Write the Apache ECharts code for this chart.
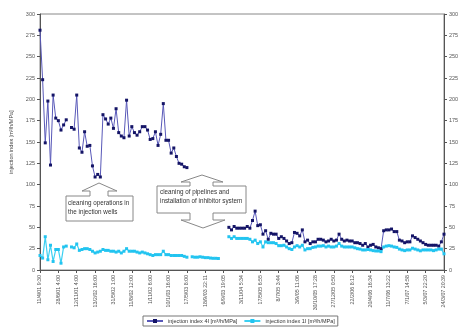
<!DOCTYPE html>
<html><head><meta charset="utf-8">
<script src="https://cdn.jsdelivr.net/npm/echarts@6/dist/echarts.min.js"></script>
<style>html,body{margin:0;padding:0;background:#fff}#c{width:474px;height:333px}</style>
</head><body><div id="c"></div>
<script>
var tickLabels = ["11/4/01 9:30","28/6/01 4:00","12/11/01 4:00","13/2/02 16:00","31/5/02 1:00","11/8/02 12:00","1/11/02 6:00","10/1/03 16:00","17/5/03 8:00","18/9/03 22:11","6/9/03 19:05","3/11/04 5:34","17/5/05 6:55","8/7/05 3:44","3/9/05 11:06","30/10/05 17:28","27/12/05 0:50","22/2/06 8:12","20/4/06 16:34","11/7/06 13:22","7/1/07 14:58","5/3/07 22:20","24/3/07 20:39"];
var pointsPerTick = 7;
var seriesNames = ["injection index 4I [m³/h/MPa]","injection index 1I [m³/h/MPa]"];
var index4I = [281,223,149,198,123,205,178,175,164,170,176,null,167,165,205,143,138,162,145,146,122,109,112,109,182,177,171,178,166,189,161,157,155,199,157,168,161,158,162,168,168,164,153,154,162,146,159,195,152,152,137,143,133,125,124,121,120,
null,null,null,null,null,null,null,null,null,null,null,null,null,null,null,
50,47,51,49,49,49,49,51,49,58,69,52,53,42,46,36,43,42,42,37,39,37,34,31,32,44,43,40,47,33,35,31,33,33,36,36,35,33,34,36,34,35,42,36,34,35,34,34,32,32,31,29,31,27,29,30,27,26,25,46,47,47,48,45,45,35,34,32,33,33,40,38,36,34,32,30,29,29,29,29,28,33,42];
var index1I = [17,14,39,12,29,10,24,24,8,27,28,null,27,26,30.5,23,24,25,25,24,22,20,21,22,24,23,23,22,22,21,22,20,22,25,22,22,22,21,20,21,20,19,18,17,18,18,18,22,18,18,17,17,17,17,17,16,15,
null,15.5,15,15,15.5,15,14.5,14.5,14,13.7,13.7,13.5,null,null,null,
39,37,39,37,37,37,37,37,36,33,35,31,33,27,33,32,32,32,31,28.5,28.5,29,27,25,24,27,28.5,27,29,23.5,25,25,26.5,27,28,28,28.5,27,28,27,27,28,31,28,27,27,27,27,26,25,24.5,23.5,23.5,24,23.5,22.7,22.3,22.3,21.5,27,28,28.5,28,27,26.5,24.5,23.5,22.7,23.5,23.5,25.5,24.5,23.5,22.5,23.5,23.5,23.5,23.5,22.7,23.5,24.5,24.5,19];
var annotationTexts = ["cleaning operations in\nthe injection wells","cleaning of pipelines and\ninstallation of inhibitor system"];

function pairs(arr){ return arr.map(function(v,i){ return [i, v]; }); }
var maxX = (tickLabels.length-1)*pointsPerTick;
var FONT = "Liberation Sans";
var chart = echarts.init(document.getElementById('c'));
var yCommon = {
  type:'value', min:0, max:300, interval:25,
  axisLine:{show:true,lineStyle:{color:'#555',width:1}},
  axisTick:{show:true,length:3,lineStyle:{color:'#555'}},
  axisLabel:{fontSize:5.5,color:'#555',fontFamily:FONT,margin:5},
  splitLine:{show:false}
};
chart.setOption({
  animation:false,
  grid:{left:38,right:30,top:14,bottom:63,show:true,borderColor:'#888',borderWidth:1,backgroundColor:'transparent'},
  legend:{
    left:143, top:316, itemWidth:16, itemHeight:5, itemGap:6,
    padding:[2,3,2,3], borderColor:'#777', borderWidth:1, borderRadius:0,
    textStyle:{fontSize:5.5,color:'#333',fontFamily:FONT},
    data:seriesNames
  },
  xAxis:{
    type:'value', min:0, max:maxX, interval:pointsPerTick,
    axisLine:{show:true,onZero:false,lineStyle:{color:'#555'}},
    axisTick:{show:true,length:3,lineStyle:{color:'#555'}},
    splitLine:{show:false},
    axisLabel:{rotate:90,fontSize:5.3,color:'#555',fontFamily:FONT,margin:5,showMinLabel:true,showMaxLabel:true,
      formatter:function(v){ return tickLabels[Math.round(v/pointsPerTick)] || ''; }}
  },
  yAxis:[
    Object.assign({}, yCommon, {position:'left', name:'injection index [m³/h/MPa]', nameLocation:'middle', nameGap:26, nameTextStyle:{fontSize:5.5,color:'#444',fontFamily:FONT}}),
    Object.assign({}, yCommon, {position:'right'})
  ],
  series:[
    {name:seriesNames[0], type:'line', yAxisIndex:0, data:pairs(index4I), connectNulls:false,
     symbol:'rect', symbolSize:3, showSymbol:true,
     lineStyle:{color:'#5858b8',width:1}, itemStyle:{color:'#141466'}},
    {name:seriesNames[1], type:'line', yAxisIndex:0, data:pairs(index1I), connectNulls:false,
     symbol:'rect', symbolSize:3, showSymbol:true,
     lineStyle:{color:'#3cd0f2',width:1.2}, itemStyle:{color:'#22c4f0'}}
  ],
  graphic:[
    {type:'polygon', z:100, shape:{points:[[66,196],[90,196],[90,191],[82,191],[99,183],[117,191],[108,191],[108,196],[133,196],[133,221],[66,221]]},
     style:{fill:'#fff',stroke:'#888',lineWidth:1}},
    {type:'text', z:101, left:68, top:199, style:{text:annotationTexts[0],fontSize:6.3,lineHeight:9,fill:'#333',fontFamily:FONT}},
    {type:'polygon', z:100, shape:{points:[[157,186],[190,186],[190,182],[181,182],[202,175],[223,182],[213,182],[213,186],[246,186],[246,213],[213,213],[213,220],[225,220],[203,228],[181,220],[190,220],[190,213],[157,213]]},
     style:{fill:'#fff',stroke:'#888',lineWidth:1}},
    {type:'text', z:101, left:160, top:188, style:{text:annotationTexts[1],fontSize:6.3,lineHeight:9,fill:'#333',fontFamily:FONT}}
  ]
});
</script></body></html>
